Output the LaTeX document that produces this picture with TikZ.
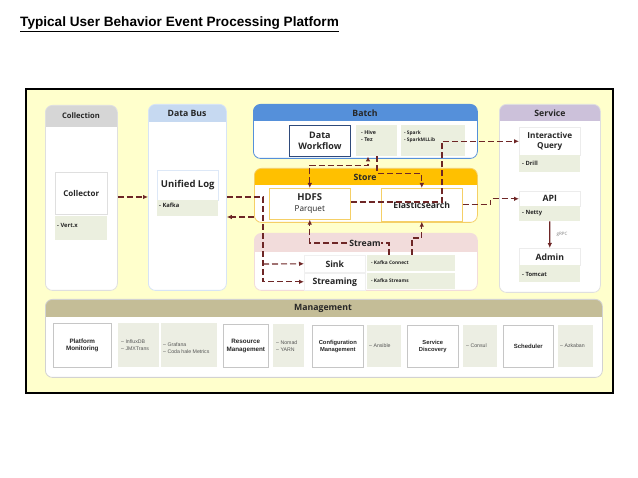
\documentclass[tikz,border=0pt]{standalone}
\usepackage{fontspec}
\setmainfont{Open Sans}
\newfontfamily\arialf{Liberation Sans}
\usetikzlibrary{arrows.meta}
\definecolor{bgyellow}{HTML}{FFFFCC}
\definecolor{hdrgray}{HTML}{D6D6D6}
\definecolor{hdrblue}{HTML}{C6D9F1}
\definecolor{batchblue}{HTML}{5590DA}
\definecolor{storegold}{HTML}{FFC000}
\definecolor{goldline}{HTML}{F5CF66}
\definecolor{streampink}{HTML}{F2DCDB}
\definecolor{servlav}{HTML}{CCC1DA}
\definecolor{mgmtkhaki}{HTML}{C4BD97}
\definecolor{subgreen}{HTML}{EBEFDF}
\definecolor{mgreen}{HTML}{ECEEE3}
\definecolor{arrowred}{HTML}{6E2626}
\definecolor{navyline}{HTML}{2F4A7A}
\definecolor{txt}{HTML}{262626}
\definecolor{mtxt}{HTML}{555555}
\begin{document}
\begin{tikzpicture}[x=1pt,y=-1pt,
  colbox/.style n args={3}{draw=#1, line width=0.8pt, fill=white, rounded corners=7pt,
    anchor=north west, inner sep=0pt,
    path picture={\fill[#2, sharp corners] (path picture bounding box.north west) rectangle ([yshift=-#3]path picture bounding box.north east);}},
  hdrtext/.style={font=\bfseries\fontsize{8.7}{10}\selectfont, text=txt, inner sep=0.5pt},
  wbox/.style={draw=#1, line width=0.6pt, fill=white, anchor=north west, inner sep=0pt, align=center, text=txt},
  gbox/.style={fill=subgreen, anchor=north west, inner sep=0pt},
  mbox/.style={draw=gray!45, line width=0.6pt, fill=white, anchor=north west, inner sep=0pt, align=center,
    font=\arialf\bfseries\fontsize{6.3}{7.6}\selectfont, text=txt},
  mgbox/.style={fill=mgreen, anchor=north west, inner sep=0pt},
  mtext/.style={font=\arialf\fontsize{5.2}{7}\selectfont, text=mtxt, align=left, inner sep=0pt},
  subtext/.style={font=\bfseries\fontsize{5.8}{7}\selectfont, text=txt, align=left, inner sep=0pt},
  conn/.style={draw=arrowred, line width=1.15pt, dash pattern=on 6pt off 3pt,
    -{Latex[length=5pt,width=4.5pt]}},
]
\useasboundingbox (0,0) rectangle (638,478);
% title
\node[anchor=base west, inner sep=0pt, font=\arialf\bfseries\fontsize{13.6}{16}\selectfont] (title) at (20,27)
  {\underline{Typical User Behavior Event Processing Platform}};
% outer frame
\node[draw=black, line width=1.8pt, fill=bgyellow, anchor=north west, inner sep=0pt,
  minimum width=587pt, minimum height=304pt] (frame) at (25,88) {};

% columns
\node[colbox={gray!25}{hdrgray}{22pt}, minimum width=72pt, minimum height=185pt] (collection) at (45,105) {};
\node[hdrtext, font=\bfseries\fontsize{7.6}{9}\selectfont] (collectionT) at (81,116) {Collection};
\node[colbox={hdrblue!70}{hdrblue}{18pt}, minimum width=78pt, minimum height=186pt] (databus) at (148,104) {};
\node[hdrtext] (databusT) at (187,113) {Data Bus};
\node[colbox={batchblue}{batchblue}{17pt}, minimum width=224pt, minimum height=54pt] (batch) at (253,104) {};
\node[hdrtext] (batchT) at (365,113) {Batch};
\node[colbox={goldline}{storegold}{17pt}, minimum width=223pt, minimum height=54pt] (store) at (254,168) {};
\node[hdrtext] (storeT) at (365,177) {Store};
\node[colbox={streampink}{streampink}{19pt}, minimum width=223pt, minimum height=57pt] (stream) at (254,233) {};
\node[colbox={gray!25}{servlav}{17pt}, minimum width=101pt, minimum height=188pt] (service) at (499,104) {};
\node[hdrtext] (serviceT) at (550,113) {Service};
\node[colbox={gray!35}{mgmtkhaki}{18pt}, minimum width=557pt, minimum height=78pt] (mgmt) at (45,299) {};
\node[hdrtext] (mgmtT) at (323,308) {Management};

% collection
\node[wbox=gray!25, minimum width=52pt, minimum height=42pt, font=\bfseries\fontsize{8}{10}\selectfont] (collector) at (55,172) {Collector};
\node[gbox, minimum width=52pt, minimum height=24pt] (vertx) at (55,216) {};
\node[subtext, anchor=west] (vertxT) at (57,225) {- Vert.x};
% data bus
\node[wbox=hdrblue!60, minimum width=61pt, minimum height=30pt, font=\bfseries\fontsize{9.5}{12}\selectfont] (ulog) at (157,170) {Unified Log};
\node[gbox, minimum width=61pt, minimum height=16pt] (kafka) at (157,200) {};
\node[subtext, anchor=west] (kafkaT) at (159,205.5) {- Kafka};
% batch
\node[wbox=navyline, line width=0.9pt, minimum width=61pt, minimum height=31pt, font=\bfseries\fontsize{9}{11}\selectfont] (dwf) at (289,125) {Data\\Workflow};
\node[gbox, minimum width=41pt, minimum height=31pt] (hive) at (356,125) {};
\node[subtext, anchor=north west, font=\bfseries\fontsize{5.3}{6.8}\selectfont] (hiveT) at (361,130) {- Hive\\- Tez};
\node[gbox, minimum width=64pt, minimum height=31pt] (spark) at (401,125) {};
\node[subtext, anchor=north west, font=\bfseries\fontsize{4.8}{6.3}\selectfont] (sparkT) at (404,131) {- Spark\\- SparkMLLib};
% store
\node[wbox=goldline, minimum width=81pt, minimum height=31pt] (hdfs) at (269,188)
  {{\bfseries\fontsize{9.5}{11}\selectfont HDFS}\\[-1pt]{\fontsize{8.2}{10}\selectfont Parquet}};
\node[wbox=goldline, minimum width=81pt, minimum height=33pt, font=\bfseries\fontsize{8.7}{11}\selectfont] (elastic) at (381,188) {\raisebox{-3pt}{Elasticsearch}};
% stream
\node[wbox=gray!12, minimum width=61pt, minimum height=17pt, font=\bfseries\fontsize{8.7}{11}\selectfont] (sink) at (304,255) {Sink};
\node[gbox, minimum width=88pt, minimum height=16pt] (kc) at (367,255) {};
\node[subtext, anchor=west, font=\bfseries\fontsize{4.8}{6}\selectfont] (kcT) at (371,263) {- Kafka Connect};
\node[wbox=gray!12, minimum width=61pt, minimum height=17pt, font=\bfseries\fontsize{8.7}{11}\selectfont] (streaming) at (304,273) {Streaming};
\node[gbox, minimum width=88pt, minimum height=16pt] (ks) at (367,273) {};
\node[subtext, anchor=west, font=\bfseries\fontsize{4.8}{6}\selectfont] (ksT) at (371,281) {- Kafka Streams};
% service
\node[wbox=gray!15, minimum width=61pt, minimum height=28pt, font=\bfseries\fontsize{8.2}{10}\selectfont] (iq) at (519,127) {Interactive\\Query};
\node[gbox, minimum width=61pt, minimum height=17pt] (drill) at (519,155) {};
\node[subtext, anchor=west] (drillT) at (522,163) {- Drill};
\node[wbox=gray!15, minimum width=61pt, minimum height=15pt, font=\bfseries\fontsize{8.7}{11}\selectfont] (api) at (519,191) {API};
\node[gbox, minimum width=61pt, minimum height=15pt] (netty) at (519,206) {};
\node[subtext, anchor=west] (nettyT) at (522,213) {- Netty};
\node[wbox=gray!15, minimum width=61pt, minimum height=17pt, font=\bfseries\fontsize{8.7}{11}\selectfont] (admin) at (519,248) {Admin};
\node[gbox, minimum width=61pt, minimum height=17pt] (tomcat) at (519,265) {};
\node[subtext, anchor=west] (tomcatT) at (522,274) {- Tomcat};

% management
\node[mbox, minimum width=58pt, minimum height=44pt] (pmon) at (53,323) {Platform\\Monitoring};
\node[mgbox, minimum width=41pt, minimum height=44pt] (influx) at (118,323) {};
\node[mtext, anchor=west] (influxT) at (121,345) {– InfluxDB\\– JMXTrans};
\node[mgbox, minimum width=56pt, minimum height=44pt] (grafana) at (161,323) {};
\node[mtext, anchor=west] (grafanaT) at (163,348) {– Grafana\\– Coda hale Metrics};
\node[mbox, minimum width=45pt, minimum height=43pt] (resm) at (223,324) {Resource\\Management};
\node[mgbox, minimum width=31pt, minimum height=43pt] (nomad) at (273,324) {};
\node[mtext, anchor=west] (nomadT) at (276,346) {– Nomad\\– YARN};
\node[mbox, minimum width=51pt, minimum height=42pt, font=\arialf\bfseries\fontsize{5.8}{7.2}\selectfont] (confm) at (312,325) {Configuration\\Management};
\node[mgbox, minimum width=34pt, minimum height=42pt] (ansible) at (367,325) {};
\node[mtext, anchor=west] (ansibleT) at (369,346) {– Ansible};
\node[mbox, minimum width=51pt, minimum height=42pt, font=\arialf\bfseries\fontsize{5.8}{7.2}\selectfont] (sdisc) at (407,325) {Service\\Discovery};
\node[mgbox, minimum width=34pt, minimum height=42pt] (consul) at (463,325) {};
\node[mtext, anchor=west] (consulT) at (466,346) {– Consul};
\node[mbox, minimum width=50pt, minimum height=42pt, font=\arialf\bfseries\fontsize{6}{7.2}\selectfont] (sched) at (503,325) {Scheduler};
\node[mgbox, minimum width=35pt, minimum height=42pt] (azk) at (558,325) {};
\node[mtext, anchor=west] (azkT) at (560,346) {– Azkaban};

% helper coordinates
\coordinate (y197) at (0,197);
\coordinate (y217) at (0,217);
\coordinate (y202) at (0,202);
\coordinate (bus1) at (263,197);
\coordinate (bus2) at (263,264);

% connectors
\draw[conn] (collection.east |- y197) -- (databus.west |- y197);
\draw[conn] (databus.east |- y197) -- (bus1) |- (streaming.west);
\draw[conn] (bus2) -- (sink.west);
\draw[conn] (store.west |- y217) -- (databus.east |- y217);
\draw[conn, {Latex[length=5pt,width=4.5pt]}-{Latex[length=5pt,width=4.5pt]}] (hdfs.north) |- ([xshift=12pt,yshift=-9pt]hive.south west) -- ([xshift=12pt]hive.south west);
\draw[conn] ([xshift=21pt]hive.south west) -- ++(0,17) -| (elastic.north);
\draw[conn] (hdfs.east |- y202) -| ([xshift=-77pt]iq.west) -- (iq.west);
\draw[conn] (elastic.east) -- ++(28,0) |- (api.west);
\draw[conn] ([xshift=22pt]kc.north west) -- ++(0,-12) -| (hdfs.south);
\draw[conn] ([xshift=45pt]kc.north west) -- ++(0,-17) -| (elastic.south);
\draw[draw=arrowred, line width=1.15pt, -{Latex[length=5pt,width=4.5pt]}] (netty.south) -- (admin.north)
  node[midway, right=3pt, font=\fontsize{4.5}{5}\selectfont, text=gray] (grpc) {gRPC};
\node[hdrtext, fill=streampink] (streamT) at (365,243) {Stream};
\end{tikzpicture}
\end{document}
